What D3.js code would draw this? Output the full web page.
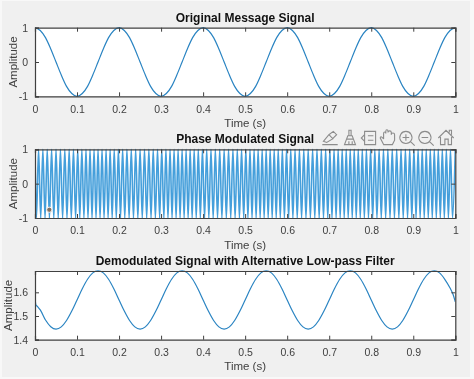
<!DOCTYPE html>
<html><head><meta charset="utf-8">
<script src="https://cdn.jsdelivr.net/npm/d3@7"></script>
<style>
html,body{margin:0;padding:0;background:#f8f8f8;overflow:hidden}
svg{display:block;filter:blur(0.35px)}
text{font-family:"Liberation Sans",Arial,sans-serif}
</style></head><body>
<svg id="c" width="474" height="379"></svg>
<script>
const xTicks=[0,0.1,0.2,0.3,0.4,0.5,0.6,0.7,0.8,0.9,1];
const xTickLabels=["0","0.1","0.2","0.3","0.4","0.5","0.6","0.7","0.8","0.9","1"];
const titles=["Original Message Signal","Phase Modulated Signal","Demodulated Signal with Alternative Low-pass Filter"];
const xLabel="Time (s)";
const yLabel="Amplitude";
const y1Ticks=[-1,0,1];
const y3Ticks=[1.4,1.5,1.6];
const y3TickLabels=["1.4","1.5","1.6"];

const messageTime=[0,0.0125,0.025,0.0375,0.05,0.0625,0.075,0.0875,0.1,0.1125,0.125,0.1375,0.15,0.1625,0.175,0.1875,
0.2,0.2125,0.225,0.2375,0.25,0.2625,0.275,0.2875,0.3,0.3125,0.325,0.3375,0.35,0.3625,0.375,0.3875,
0.4,0.4125,0.425,0.4375,0.45,0.4625,0.475,0.4875,0.5,0.5125,0.525,0.5375,0.55,0.5625,0.575,0.5875,
0.6,0.6125,0.625,0.6375,0.65,0.6625,0.675,0.6875,0.7,0.7125,0.725,0.7375,0.75,0.7625,0.775,0.7875,
0.8,0.8125,0.825,0.8375,0.85,0.8625,0.875,0.8875,0.9,0.9125,0.925,0.9375,0.95,0.9625,0.975,0.9875,1];
const messageValue=[1,0.92,0.71,0.38,0,-0.38,-0.71,-0.92,-1,-0.92,-0.71,-0.38,0,0.38,0.71,0.92,
1,0.92,0.71,0.38,0,-0.38,-0.71,-0.92,-1,-0.92,-0.71,-0.38,0,0.38,0.71,0.92,
1,0.92,0.71,0.38,0,-0.38,-0.71,-0.92,-1,-0.92,-0.71,-0.38,0,0.38,0.71,0.92,
1,0.92,0.71,0.38,0,-0.38,-0.71,-0.92,-1,-0.92,-0.71,-0.38,0,0.38,0.71,0.92,
1,0.92,0.71,0.38,0,-0.38,-0.71,-0.92,-1,-0.92,-0.71,-0.38,0,0.38,0.71,0.92,1];

const pmTime=[0,.0034,.0085,.0136,.0187,.0239,.0291,.0343,.0395,.0447,.05,.0552,.0605,.0657,.0709,.0761,.0813,.0864,.0915,.0966,.1016,.1066,.1115,.1164,.1213,.1261,.1309,.1357,.1405,.1452,.15,.1548,.1595,.1643,.1691,.1739,.1787,.1836,.1885,.1934,
.1984,.2034,.2085,.2136,.2187,.2239,.2291,.2343,.2395,.2447,.25,.2552,.2605,.2657,.2709,.2761,.2813,.2864,.2915,.2966,.3016,.3066,.3115,.3164,.3213,.3261,.3309,.3357,.3405,.3452,.35,.3548,.3595,.3643,.3691,.3739,.3787,.3836,.3885,.3934,
.3984,.4034,.4085,.4136,.4187,.4239,.4291,.4343,.4395,.4447,.45,.4552,.4605,.4657,.4709,.4761,.4813,.4864,.4915,.4966,.5016,.5066,.5115,.5164,.5213,.5261,.5309,.5357,.5405,.5452,.55,.5548,.5595,.5643,.5691,.5739,.5787,.5836,.5885,.5934,
.5984,.6034,.6085,.6136,.6187,.6239,.6291,.6343,.6395,.6447,.65,.6552,.6605,.6657,.6709,.6761,.6813,.6864,.6915,.6966,.7016,.7066,.7115,.7164,.7213,.7261,.7309,.7357,.7405,.7452,.75,.7548,.7595,.7643,.7691,.7739,.7787,.7836,.7885,.7934,
.7984,.8034,.8085,.8136,.8187,.8239,.8291,.8343,.8395,.8447,.85,.8552,.8605,.8657,.8709,.8761,.8813,.8864,.8915,.8966,.9016,.9066,.9115,.9164,.9213,.9261,.9309,.9357,.9405,.9452,.95,.9548,.9595,.9643,.9691,.9739,.9787,.9836,.9885,.9934,1];
const pmValue=[1,-1,1,-1,1,-1,1,-1,1,-1,1,-1,1,-1,1,-1,1,-1,1,-1,1,-1,1,-1,1,-1,1,-1,1,-1,1,-1,1,-1,1,-1,1,-1,1,-1,
1,-1,1,-1,1,-1,1,-1,1,-1,1,-1,1,-1,1,-1,1,-1,1,-1,1,-1,1,-1,1,-1,1,-1,1,-1,1,-1,1,-1,1,-1,1,-1,1,-1,
1,-1,1,-1,1,-1,1,-1,1,-1,1,-1,1,-1,1,-1,1,-1,1,-1,1,-1,1,-1,1,-1,1,-1,1,-1,1,-1,1,-1,1,-1,1,-1,1,-1,
1,-1,1,-1,1,-1,1,-1,1,-1,1,-1,1,-1,1,-1,1,-1,1,-1,1,-1,1,-1,1,-1,1,-1,1,-1,1,-1,1,-1,1,-1,1,-1,1,-1,
1,-1,1,-1,1,-1,1,-1,1,-1,1,-1,1,-1,1,-1,1,-1,1,-1,1,-1,1,-1,1,-1,1,-1,1,-1,1,-1,1,-1,1,-1,1,-1,1,-1,1];
const markerTime=[0.034];
const markerValue=[-0.76];

const demodTime=[0,0.002,0.006,0.0125,0.025,0.0375,0.05,0.0625,0.075,0.0875,0.1,0.1125,0.125,0.1375,0.15,0.1625,0.175,0.1875,
0.2,0.2125,0.225,0.2375,0.25,0.2625,0.275,0.2875,0.3,0.3125,0.325,0.3375,0.35,0.3625,0.375,0.3875,
0.4,0.4125,0.425,0.4375,0.45,0.4625,0.475,0.4875,0.5,0.5125,0.525,0.5375,0.55,0.5625,0.575,0.5875,
0.6,0.6125,0.625,0.6375,0.65,0.6625,0.675,0.6875,0.7,0.7125,0.725,0.7375,0.75,0.7625,0.775,0.7875,
0.8,0.8125,0.825,0.8375,0.85,0.8625,0.875,0.8875,0.9,0.9125,0.925,0.9375,0.95,0.9625,0.975,0.9875,0.995,1];
const demodValue=[1.58,1.548,1.54,1.526,1.483,1.455,1.445,1.454,1.481,1.521,1.568,1.615,1.655,1.682,1.691,1.682,1.655,1.615,
1.568,1.521,1.481,1.454,1.445,1.454,1.481,1.521,1.568,1.615,1.655,1.682,1.691,1.682,1.655,1.615,
1.568,1.521,1.481,1.454,1.445,1.454,1.481,1.521,1.568,1.615,1.655,1.682,1.691,1.682,1.655,1.615,
1.568,1.521,1.481,1.454,1.445,1.454,1.481,1.521,1.568,1.615,1.655,1.682,1.691,1.682,1.655,1.615,
1.568,1.521,1.481,1.454,1.445,1.454,1.481,1.521,1.568,1.615,1.655,1.682,1.691,1.682,1.655,1.618,1.59,1.56];

const LINE="#2a84c2", PMLINE="#459fdb", INK="#404040", BOX="#404040";
const svg=d3.select("#c");
svg.append("rect").attr("x",2).attr("y",1).attr("width",468).attr("height",376).attr("fill","#f0f0f0");

const x=d3.scaleLinear().domain([0,1]).range([35,455.3]);
const panels=[
 {top:27.7,bottom:96.3,dom:[-1,1],ticks:y1Ticks,labs:["-1","0","1"],t:messageTime,v:messageValue,lx:13},
 {top:149.3,bottom:218,dom:[-1,1],ticks:y1Ticks,labs:["-1","0","1"],t:pmTime,v:pmValue,lx:13},
 {top:271,bottom:339.7,dom:[1.4,1.69],ticks:y3Ticks,labs:y3TickLabels,t:demodTime,v:demodValue,lx:8}
];
panels.forEach((p,i)=>{
 const y=d3.scaleLinear().domain(p.dom).range([p.bottom,p.top]);
 const g=svg.append("g");
 g.append("rect").attr("x",x(0)).attr("y",p.top).attr("width",x(1)-x(0)).attr("height",p.bottom-p.top).attr("fill","#fff");
 const clipId="clip"+i;
 g.append("clipPath").attr("id",clipId).append("rect").attr("x",x(0)).attr("y",p.top-1).attr("width",x(1)-x(0)).attr("height",p.bottom-p.top+2);
 const line=d3.line().x(d=>x(d[0])).y(d=>y(d[1])).curve(d3.curveMonotoneX);
 g.append("path").datum(d3.zip(p.t,p.v)).attr("clip-path",`url(#${clipId})`).attr("d",line)
  .attr("fill","none").attr("stroke",i==1?PMLINE:LINE).attr("stroke-width",i==1?1.6:1.2);
 if(i==1){
  g.selectAll("circle.m").data(d3.zip(markerTime,markerValue)).join("circle").attr("class","m")
   .attr("cx",d=>x(d[0])).attr("cy",d=>y(d[1])).attr("r",2.6)
   .attr("fill","#85705f").attr("stroke","#f2f2f2").attr("stroke-width",1);
 }
 const bottom=d3.axisBottom(x).tickValues(xTicks).tickSize(-4).tickPadding(9).tickFormat((d,j)=>xTickLabels[j]);
 const top=d3.axisTop(x).tickValues(xTicks).tickSize(-4).tickFormat("");
 const left=d3.axisLeft(y).tickValues(p.ticks).tickSize(-4).tickPadding(7).tickFormat((d,j)=>p.labs[j]);
 const right=d3.axisRight(y).tickValues(p.ticks).tickSize(-4).tickFormat("");
 [[bottom,`translate(0,${p.bottom})`],[top,`translate(0,${p.top})`],[left,`translate(${x(0)},0)`],[right,`translate(${x(1)},0)`]].forEach(([a,tr])=>{
  const ag=g.append("g").attr("transform",tr).call(a);
  ag.selectAll("path.domain").attr("stroke",BOX).attr("stroke-width",1.2);
  ag.selectAll("line").attr("stroke",BOX);
  ag.selectAll("text").attr("fill",INK).style("font-size","10.5px").style("font-family",'"Liberation Sans",Arial,sans-serif');
 });
 const mid=(x(0)+x(1))/2;
 g.append("text").attr("x",mid).attr("y",p.top-6).attr("text-anchor","middle")
  .attr("font-weight","bold").attr("font-size","12px").attr("fill","#111").text(titles[i]);
 g.append("text").attr("x",mid).attr("y",p.bottom+30.5).attr("text-anchor","middle")
  .attr("font-size","11.5px").attr("fill",INK).text(xLabel);
 g.append("text").attr("transform",`translate(${p.lx+4},${(p.top+p.bottom)/2}) rotate(-90)`).attr("text-anchor","middle")
  .attr("font-size","11.5px").attr("fill",INK).text(yLabel);
});

// figure toolbar
const tb=svg.append("g").attr("fill","none").attr("stroke","#8c8c8c").attr("stroke-width",1);
const icons=[
 [330,"M-7 6H7M-6 3L-1 -3L3 -6L6 -3L2 1L-3 4ZM-1 -3L3 1"],
 [350,"M1 -7H-1V-2H1ZM-2 -2H2L5 6H-5ZM-3 1H3M-1 3V6M2 3V6"],
 [369,"M-4 -6H6V6H-4ZM-4 -3L-7 0L-4 3M-1 -2H4M-1 2H4"],
 [388,"M-4 6L-7 0C-7 -2 -5 -1 -4 1V-4C-4 -6 -2 -6 -2 -4V-6C-2 -8 0 -8 0 -6V-5C0 -7 3 -7 3 -5V-3C3 -5 6 -5 6 -3V2L4 6Z"],
 [407,"M-1 -6A5.5 5.5 0 1 0 -0.99 -6M3 3L7 7M-4 -0.5H2M-1 -3.5V2.5"],
 [426,"M-1 -6A5.5 5.5 0 1 0 -0.99 -6M3 3L7 7M-4 -0.5H2"],
 [446,"M-7 0L0 -7L7 0M-5 -2V6H-1V1H2V6H5V-2M3 -5V-7H5V-3"]
];
icons.forEach(([cx,d])=>tb.append("path").attr("transform",`translate(${cx},138) scale(1.1)`).attr("d",d));
</script>
</body></html>
